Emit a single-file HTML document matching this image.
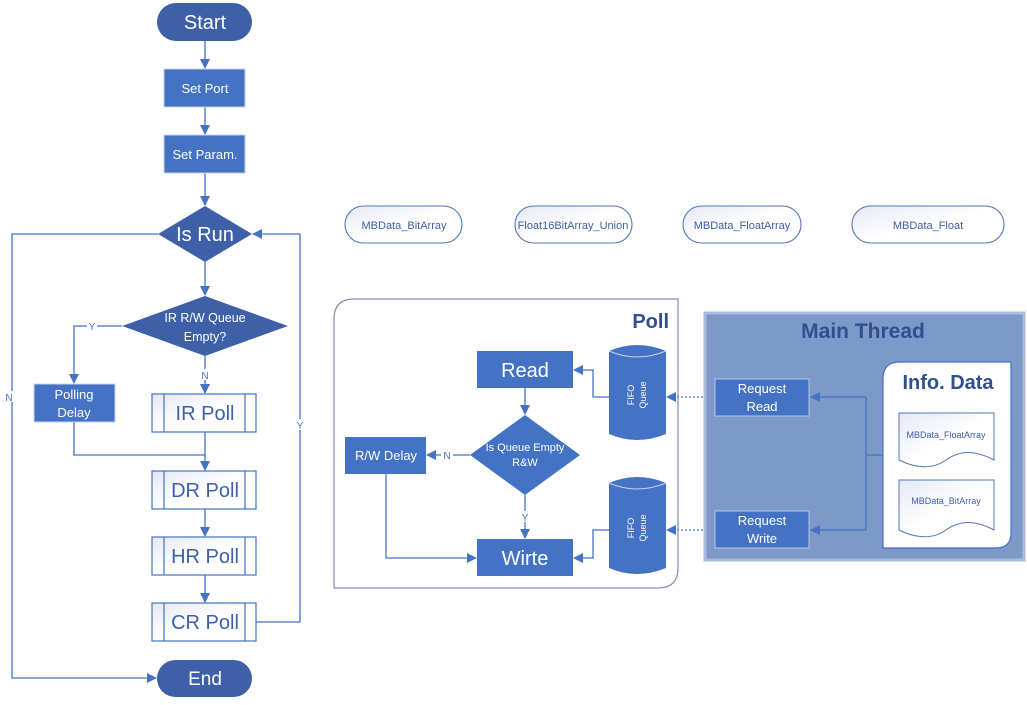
<!DOCTYPE html>
<html><head><meta charset="utf-8"><style>
html,body{margin:0;padding:0;background:#fff;}
svg{display:block;font-family:"Liberation Sans",sans-serif;}
</style></head><body>
<svg width="1027" height="705" viewBox="0 0 1027 705" xmlns="http://www.w3.org/2000/svg">
<defs>
<marker id="a" markerWidth="10" markerHeight="10" refX="9" refY="5" orient="auto" markerUnits="userSpaceOnUse"><path d="M0,0 L10,5 L0,10 z" fill="#4472c4"/></marker>
<linearGradient id="g" x1="0" y1="0" x2="1" y2="1"><stop offset="0" stop-color="#e4e8f4"/><stop offset="0.5" stop-color="#fff"/><stop offset="1" stop-color="#fff"/></linearGradient>
</defs>
<g stroke="#4472c4" stroke-width="1.3" fill="none">
<!-- left flow -->
<path d="M205,41 V68" marker-end="url(#a)"/>
<path d="M205,107 V134" marker-end="url(#a)"/>
<path d="M205,173 V205" marker-end="url(#a)"/>
<path d="M205,262 V295" marker-end="url(#a)"/>
<path d="M205,356 V393" marker-end="url(#a)"/>
<path d="M122,326 H74 V383" marker-end="url(#a)"/>
<path d="M74,422 V455 H205"/>
<path d="M205,432 V470" marker-end="url(#a)"/>
<path d="M205,509 V536" marker-end="url(#a)"/>
<path d="M205,575 V602" marker-end="url(#a)"/>
<path d="M158,234 H12 V678 H156" marker-end="url(#a)"/>
<path d="M256,622 H300 V234 H253" marker-end="url(#a)"/>
<!-- poll -->
<path d="M525,388 V414" marker-end="url(#a)"/>
<path d="M470,455 H427" marker-end="url(#a)"/>
<path d="M525,495 V538" marker-end="url(#a)"/>
<path d="M386,474 V558 H476" marker-end="url(#a)"/>
<path d="M609,397 H593 V370 H574" marker-end="url(#a)"/>
<path d="M609,530 H593 V558 H574" marker-end="url(#a)"/>
<path d="M715,397 H667" stroke-dasharray="2,2" marker-end="url(#a)"/>
<path d="M715,530 H667" stroke-dasharray="2,2" marker-end="url(#a)"/>
</g>
<!-- labels on connectors -->
<g font-size="10" fill="#4472c4" text-anchor="middle">
<rect x="87" y="320" width="10" height="11" fill="#fff"/><text x="92" y="330">Y</text>
<rect x="199" y="369" width="12" height="11" fill="#fff"/><text x="205" y="379">N</text>
<rect x="4" y="391" width="12" height="11" fill="#fff"/><text x="9" y="401">N</text>
<rect x="295" y="419" width="10" height="11" fill="#fff"/><text x="300" y="429">Y</text>
<rect x="441" y="449" width="12" height="11" fill="#fff"/><text x="447" y="459">N</text>
<rect x="520" y="511" width="10" height="11" fill="#fff"/><text x="525" y="521">Y</text>
</g>
<!-- start/end -->
<rect x="157" y="3" width="95" height="38" rx="19" fill="#3d60a9"/>
<text x="205" y="29" font-size="20" fill="#fff" text-anchor="middle">Start</text>
<rect x="157" y="660" width="95" height="37" rx="18.5" fill="#3d60a9"/>
<text x="205" y="685" font-size="19" fill="#fff" text-anchor="middle">End</text>
<rect x="164" y="69" width="81" height="38" fill="#4472c4" stroke="#c8d2e8"/>
<text x="205" y="93" font-size="13" fill="#fff" text-anchor="middle">Set Port</text>
<rect x="164" y="135" width="81" height="38" fill="#4472c4" stroke="#c8d2e8"/>
<text x="205" y="159" font-size="13" fill="#fff" text-anchor="middle">Set Param.</text>
<polygon points="158,234 205,206 252,234 205,262" fill="#3d60a9"/>
<text x="205" y="241" font-size="20" fill="#fff" text-anchor="middle">Is Run</text>
<polygon points="122,326 205,296 288,326 205,356" fill="#3d60a9"/>
<text x="205" y="322" font-size="12.5" fill="#fff" text-anchor="middle">IR R/W Queue</text>
<text x="205" y="341" font-size="12.5" fill="#fff" text-anchor="middle">Empty?</text>
<rect x="34" y="384" width="81" height="38" fill="#4472c4" stroke="#c8d2e8"/>
<text x="74" y="399" font-size="13" fill="#fff" text-anchor="middle">Polling</text>
<text x="74" y="417" font-size="13" fill="#fff" text-anchor="middle">Delay</text>
<g stroke="#4472c4" stroke-width="1.2">
<rect x="152" y="394" width="104" height="38" fill="url(#g)"/><path d="M164,394V432M245,394V432"/>
<rect x="152" y="471" width="104" height="38" fill="url(#g)"/><path d="M164,471V509M245,471V509"/>
<rect x="152" y="537" width="104" height="38" fill="url(#g)"/><path d="M164,537V575M245,537V575"/>
<rect x="152" y="603" width="104" height="38" fill="url(#g)"/><path d="M164,603V641M245,603V641"/>
</g>
<g font-size="20" fill="#3d60a9" text-anchor="middle">
<text x="205" y="420">IR Poll</text><text x="205" y="497">DR Poll</text>
<text x="205" y="563">HR Poll</text><text x="205" y="629">CR Poll</text>
</g>
<!-- pills -->
<g stroke="#5575b5" stroke-width="1.1" fill="url(#g)">
<rect x="345" y="206" width="117" height="37" rx="18.5"/>
<rect x="515" y="206" width="117" height="37" rx="18.5"/>
<rect x="683" y="206" width="118" height="37" rx="18.5"/>
<rect x="852" y="206" width="152" height="37" rx="18.5"/>
</g>
<g font-size="11" fill="#3d60a9" text-anchor="middle">
<text x="404" y="229">MBData_BitArray</text><text x="573" y="229">Float16BitArray_Union</text>
<text x="742" y="229">MBData_FloatArray</text><text x="928" y="229">MBData_Float</text>
</g>
<!-- poll box -->
<path d="M354,299 H678 V568 Q678,588 658,588 H334 V319 Q334,299 354,299 z" fill="none" stroke="#7d8db5" stroke-width="1.2"/>
<text x="669" y="328" font-size="20" font-weight="bold" fill="#2f4f8f" text-anchor="end">Poll</text>
<rect x="477" y="351" width="96" height="37" fill="#4472c4"/>
<text x="525" y="377" font-size="20" fill="#fff" text-anchor="middle">Read</text>
<rect x="477" y="539" width="96" height="37" fill="#4472c4"/>
<text x="525" y="565" font-size="20" fill="#fff" text-anchor="middle">Wirte</text>
<polygon points="470,455 525,415 580,455 525,495" fill="#4472c4"/>
<text x="525" y="451" font-size="11" fill="#fff" text-anchor="middle">Is Queue Empty</text>
<text x="525" y="466" font-size="11" fill="#fff" text-anchor="middle">R&amp;W</text>
<rect x="345" y="437" width="81" height="37" fill="#4472c4"/>
<text x="386" y="460" font-size="13" fill="#fff" text-anchor="middle">R/W Delay</text>
<g fill="#4472c4">
<path d="M609,351 Q637,339 666,351 V434 Q637,446 609,434 z"/>
<path d="M609,483 Q637,471 666,483 V568 Q637,580 609,568 z"/>
</g>
<path d="M609,351 Q637,363 666,351 M609,483 Q637,495 666,483" stroke="#c8d2e8" fill="none"/>
<g font-size="9" fill="#fff" text-anchor="middle">
<text transform="translate(634,395) rotate(-90)">FIFO</text>
<text transform="translate(646,395) rotate(-90)">Queue</text>
<text transform="translate(634,528) rotate(-90)">FIFO</text>
<text transform="translate(646,528) rotate(-90)">Queue</text>
</g>
<!-- main thread -->
<rect x="705" y="313" width="319" height="247" fill="#7d99c9" stroke="#aabbdc" stroke-width="3"/>
<text x="863" y="338" font-size="21" font-weight="bold" fill="#2f4f8f" text-anchor="middle">Main Thread</text>
<path d="M883,455 H866 M866,397 V530 M866,397 H810 M866,530 H810" stroke="#4472c4" stroke-width="1.3" fill="none"/>
<path d="M820,392 L810,397 L820,402z M820,525 L810,530 L820,535z" fill="#4472c4"/>
<rect x="715" y="379" width="94" height="37" fill="#4472c4" stroke="#b8c6e2"/>
<text x="762" y="393" font-size="13" fill="#fff" text-anchor="middle">Request</text>
<text x="762" y="411" font-size="13" fill="#fff" text-anchor="middle">Read</text>
<rect x="715" y="511" width="94" height="37" fill="#4472c4" stroke="#b8c6e2"/>
<text x="762" y="525" font-size="13" fill="#fff" text-anchor="middle">Request</text>
<text x="762" y="543" font-size="13" fill="#fff" text-anchor="middle">Write</text>
<path d="M900,362 H1011 V533 Q1011,548 996,548 H883 V379 Q883,362 900,362z" fill="#fff" stroke="#4472c4" stroke-width="1.2"/>
<text x="948" y="389" font-size="20" font-weight="bold" fill="#2f4f8f" text-anchor="middle">Info. Data</text>
<g stroke="#5575b5" stroke-width="1" fill="url(#g)">
<path d="M899,413 H994 V460 C975,450 960,450 946,460 C932,470 915,468 899,460 z"/>
<path d="M899,480 H994 V530 C975,520 960,520 946,530 C932,540 915,538 899,530 z"/>
</g>
<text x="946" y="438" font-size="9" fill="#3d60a9" text-anchor="middle">MBData_FloatArray</text>
<text x="946" y="504" font-size="9" fill="#3d60a9" text-anchor="middle">MBData_BitArray</text>
</svg>
</body></html>
